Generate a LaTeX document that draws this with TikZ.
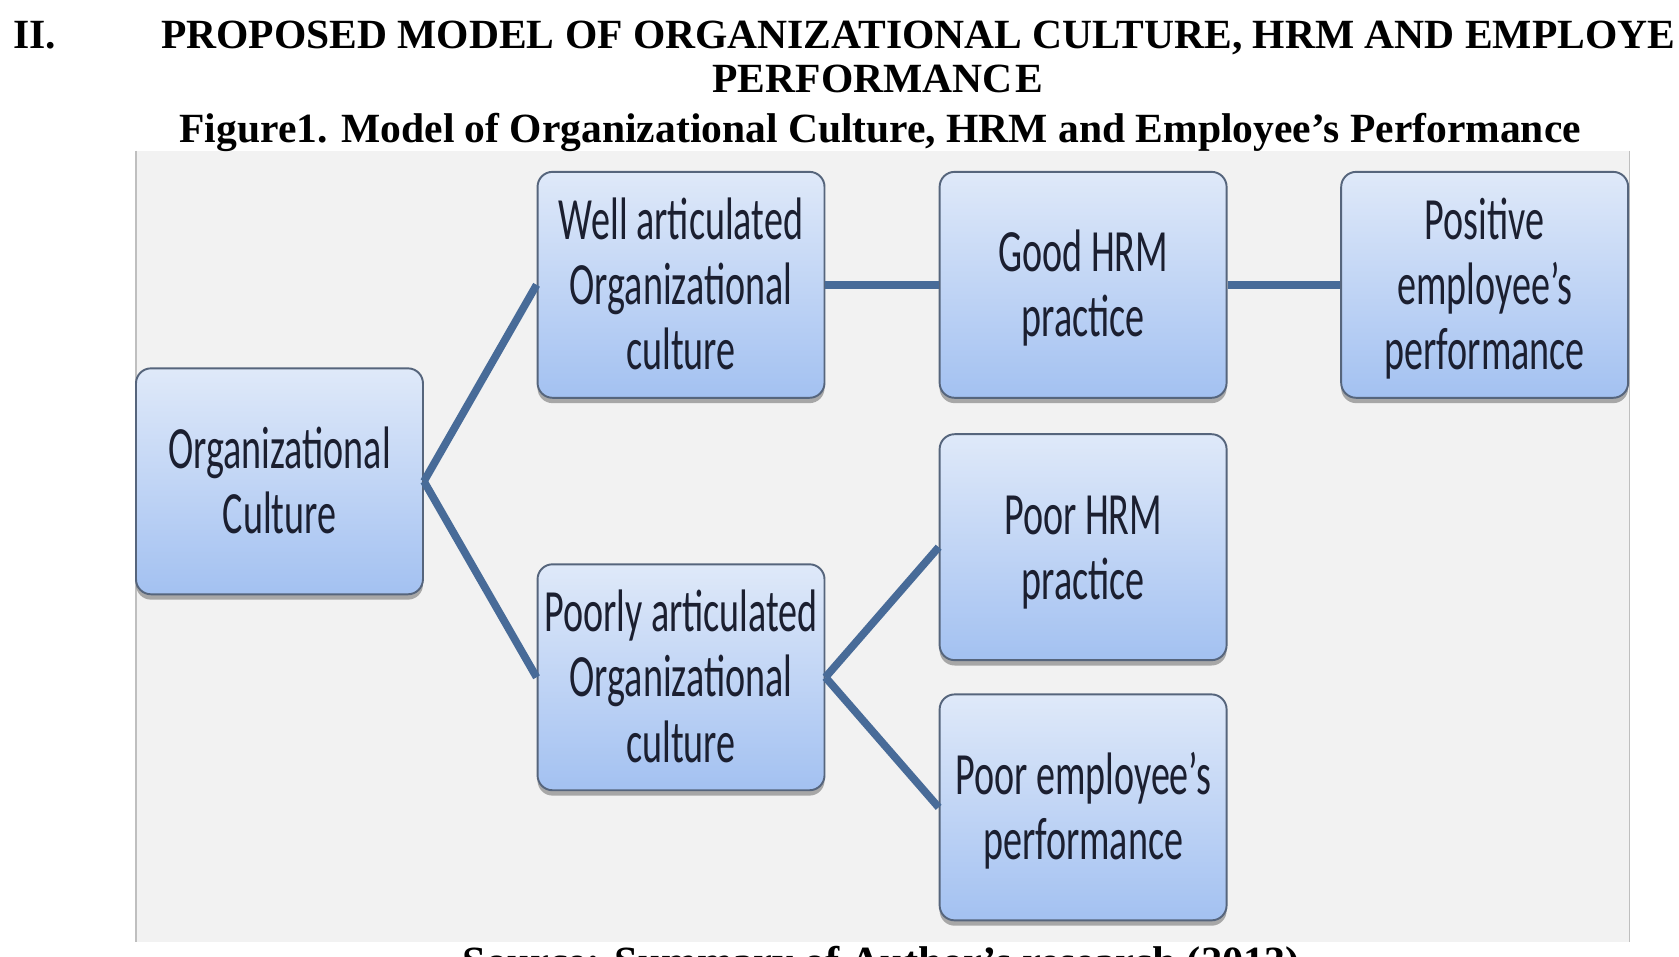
\documentclass[tikz,border=0pt]{standalone}
\usepackage{fontspec}
\setmainfont{Liberation Serif}
\newfontfamily\boxfont{Carlito}
\usetikzlibrary{shadows}
\definecolor{panelgray}{HTML}{F2F2F2}
\definecolor{boxtop}{HTML}{DFE9F9}
\definecolor{boxbot}{HTML}{A3C1F1}
\definecolor{boxline}{HTML}{56657C}
\definecolor{linkblue}{HTML}{486B98}
\definecolor{txtdark}{HTML}{1B1F30}
\newcommand{\btxt}[1]{\raisebox{-3pt}[\height][\depth]{\scalebox{0.635}[1]{\begin{tabular}{@{}c@{}}#1\end{tabular}}}}
\begin{document}
\begin{tikzpicture}[x=0.5pt,y=-0.5pt,
 boxnode/.style={rectangle, rounded corners=7pt, minimum width=134pt, minimum height=105.5pt,
   draw=boxline, line width=0.9pt, top color=boxtop, bottom color=boxbot, text=txtdark,
   font=\boxfont\fontsize{28}{30.5}\selectfont, inner sep=0pt,
   drop shadow={shadow xshift=0pt, shadow yshift=-2.5pt, opacity=0.45, fill=black!70}},
 link/.style={draw=linkblue, line width=3.6pt},
 title/.style={font=\bfseries\fontsize{19.4}{23}\selectfont, inner sep=0pt}]
\useasboundingbox (0,0) rectangle (1568,893);
\fill[white] (0,0) rectangle (1568,893);
\fill[panelgray] (127,141) rectangle (1522,880);
\draw[gray!50, line width=0.6pt] (127,141) -- (127,880) (1522,141) -- (1522,880);

\node[title, anchor=base west] (num) at (12,45) {II.};
\node[title, anchor=base west] (t1) at (150,45) {PROPOSED MODEL OF ORGANIZATIONAL CULTURE, HRM AND EMPLOYE};
\node[title, anchor=base] (t2) at (820,86) {PERFORMANC\kern1.5pt E};
\node[title, anchor=base] (t3) at (822,133) {Figure1. Model of Organizational Culture, HRM and Employee’s Performance};
\node[title, anchor=base] (src) at (823,911) {\scalebox{1.02}[1]{Source: Summary of Author’s research (2013)}};

\node[boxnode] (oc) at (261,449.5) {\btxt{Organizational\\Culture}};
\node[boxnode] (well) at (636,266) {\btxt{Well articulated\\Organizational\\culture}};
\node[boxnode] (good) at (1011.5,266) {\btxt{Good HRM\\practice}};
\node[boxnode] (pos) at (1386.5,266) {\btxt{Positive\\employee’s\\performance}};
\node[boxnode] (poorhrm) at (1011.5,511) {\btxt{Poor HRM\\practice}};
\node[boxnode] (poorly) at (636,632.5) {\btxt{Poorly articulated\\Organizational\\culture}};
\node[boxnode] (pooremp) at (1011.5,754) {\btxt{Poor employee’s\\performance}};

\draw[link] (oc.east) -- (well.west);
\draw[link] (oc.east) -- (poorly.west);
\draw[link] (well.east) -- (good.west);
\draw[link] (good.east) -- (pos.west);
\draw[link] (poorly.east) -- (poorhrm.west);
\draw[link] (poorly.east) -- (pooremp.west);
\end{tikzpicture}
\end{document}
